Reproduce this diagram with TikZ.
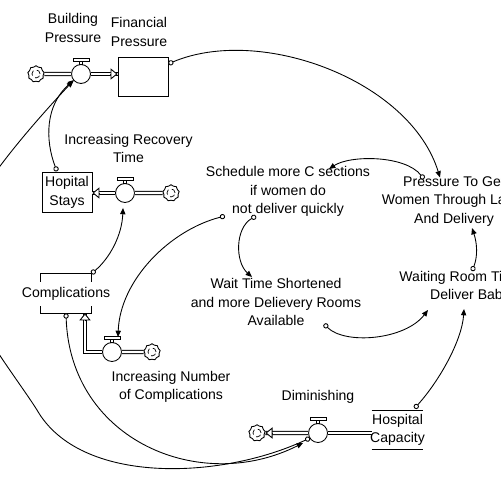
\documentclass[tikz,border=0pt]{standalone}
\usepackage{fontspec}
\setmainfont{Liberation Sans}
\usetikzlibrary{arrows.meta,positioning,calc,shapes.symbols}

\begin{document}
\begin{tikzpicture}[x=0.02cm,y=-0.02cm,every node/.style={font=\fontsize{8}{10.4}\selectfont,inner sep=0pt},lbl/.style={align=center},stock/.style={draw,fill=white,minimum width=1cm,minimum height=0.79cm,align=center,line width=0.5pt},queue/.style={minimum width=1.02cm,minimum height=0.77cm,label={[align=center]center:#1}},valve/.style={circle,draw,fill=white,minimum size=0.38cm,line width=0.5pt},sink/.style={cloud,cloud puffs=9,cloud puff arc=120,aspect=1,draw,fill=white,minimum width=0.33cm,minimum height=0.33cm,line width=0.5pt,path picture={\draw[densely dashed,line width=0.4pt] (path picture bounding box.center) circle (2.3pt);}},pipe/.style={double,double distance=1.3pt,line width=0.5pt},hollow/.style={-{Triangle[fill=white,length=4pt,width=6.4pt]},line width=0.5pt},link/.style={{Circle[fill=white,length=3pt]}-{Triangle[length=3.6pt,width=3pt]},line width=0.5pt}]
\useasboundingbox (0,0) rectangle (500,500);
\clip (0,0) rectangle (500,500);
\node[lbl] (bpl) at (73,28) {Building\\Pressure};
\node[lbl] (fpl) at (139,32) {Financial\\Pressure};
\node[sink] (c1) at (36,74) {};
\node[valve] (bp) at (81,74) {};
\node[stock] (fp) at (143,77) {};
\node[stock] (hs) at (67,192.5) {Hopital\\Stays};
\node[valve] (irt) at (125,193) {};
\node[sink] (c2) at (171,193) {};
\node[lbl] (irtl) at (128.5,148.5) {Increasing Recovery\\Time};
\node[queue=Complications,minimum width=1cm,minimum height=0.78cm] (cmp) at (66,293.5) {};
\node[valve] (inc) at (112,352) {};
\node[sink] (c3) at (152,352) {};
\node[lbl] (incl) at (171,387) {Increasing Number\\of Complications};
\node[sink] (c4) at (257,433) {};
\node[valve] (dim) at (318,433) {};
\node[lbl] (diml) at (318,397) {Diminishing};
\node[queue={Hospital\\Capacity}] (hc) at (397.5,430) {};
\node[lbl] (sch) at (288,191.5) {Schedule more C sections\\if women do\\not deliver quickly};
\node[lbl] (prs) at (454,201.5) {Pressure To Get\\Women Through Labor\\And Delivery};
\node[lbl] (wrt) at (470,287) {Waiting Room Time To\\Deliver Baby};
\node[lbl] (wts) at (276,302) {Wait Time Shortened\\and more Delievery Rooms\\Available};
\draw[pipe] (c1) -- (bp);
\draw[pipe] (bp) -- (bp -| fp.west);
\draw[hollow] ($(bp -| fp.west)+(-7.5,0)$) -- (bp -| fp.west);
\draw[pipe] (c2) -- (irt);
\draw[pipe] (irt) -- (irt -| hs.east);
\draw[hollow] ($(irt -| hs.east)+(7.5,0)$) -- (irt -| hs.east);
\draw[pipe] (c3) -- (inc);
\draw[pipe] (inc.west) -| ($(cmp.south)+(19,0)$);
\draw[hollow] ($(cmp.south)+(19,8)$) -- ($(cmp.south)+(19,0)$);
\draw[pipe] (dim) -- (dim -| hc.west);
\draw[pipe] (dim) -- (c4);
\draw[hollow] ($(c4.east)+(7.5,0)$) -- (c4.east);
\foreach \v in {bp,irt,inc,dim}{\draw[fill=white,line width=0.5pt] ($(\v.north)+(-8,-2.5)$) rectangle ($(\v.north)+(8,-5.5)$); \draw[fill=white,line width=0.5pt] ($(\v.north)+(-1.3,0.5)$) rectangle ($(\v.north)+(1.3,-2.5)$);}
\draw[line width=0.5pt] (cmp.north west) ++(0,8) -- (cmp.north west) -- (cmp.north east) -- ++(0,8);
\draw[line width=0.5pt] ($(cmp.south west)+(0,-7)$) -- (cmp.south west) -- (cmp.south east) -- ++(0,-7);
\draw[line width=0.5pt] (hc.north west) -- (hc.north east) (hc.south west) -- (hc.south east);
\draw[link] ($(fp.north east)+(0,7)$) .. controls (260,25) and (410,80) .. ($(prs)+(-14,-24)$);
\draw[link] ($(prs)+(-30,-22.5)$) .. controls (405,155) and (350,155) .. ($(sch)+(41,-22.5)$);
\draw[link] ($(sch)+(-32,24.5)$) .. controls (235,228) and (235,262) .. ($(wts)+(-24,-25)$);
\draw[link] ($(wts)+(48,22)$) .. controls (345,345) and (405,340) .. ($(wrt)+(-42,23)$);
\draw[link] ($(wrt)+(2,-16)$) .. controls (478,256) and (477,243) .. ($(prs)+(18,26.5)$);
\draw[link] ($(hc.north)+(17,-2)$) .. controls (440,380) and (462,340) .. ($(wrt)+(-6,22)$);
\draw[link] ($(sch)+(-63,24.5)$) .. controls (170,230) and (120,280) .. ($(inc)+(6,-15)$);
\draw[link] (cmp.north east) .. controls (110,258) and (122,235) .. ($(irt.south)+(-2,5)$);
\draw[link] ($(hs.north)+(-10,-1)$) .. controls (45,140) and (45,105) .. ($(bp)+(-7,6)$);
\draw[link] ($(dim)+(-8,5)$) .. controls (220,480) and (80,485) .. (37,410) .. controls (17,378) and (-45,300) .. (-45,260) .. controls (-45,225) and (-10,170) .. ($(bp)+(-8,7)$);
\draw[link] (cmp.south) .. controls (70,440) and (200,495) .. ($(dim)+(-15,10)$);
\end{tikzpicture}
\end{document}
